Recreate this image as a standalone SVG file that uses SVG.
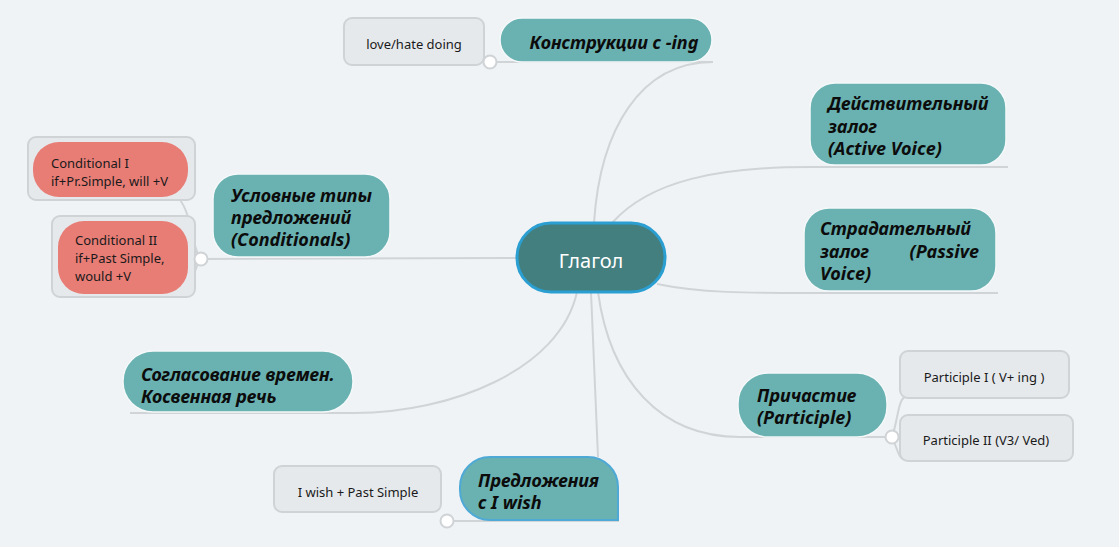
<svg xmlns="http://www.w3.org/2000/svg" width="1119" height="547" viewBox="0 0 1119 547">
<style>
.bg{fill:#eff3f6}
.c{fill:none;stroke:#d0d4d7;stroke-width:2}
.dot{fill:#ffffff;stroke:#cfd3d6;stroke-width:2}
.topic{fill:#6ab2b2;stroke:#f4f8f9;stroke-width:1.5}
.t{font-family:"Noto Sans","Open Sans",sans-serif;font-weight:bold;font-style:italic;font-size:18px;fill:#0c0c0c}
.sub{fill:#e6e9ec;stroke:#cfd3d6;stroke-width:2}
.s{font-family:"Noto Sans","Open Sans",sans-serif;font-size:13px;fill:#1a1a1a}
.red{fill:#e87d76}
</style>
<rect class="bg" x="0" y="0" width="1119" height="547"/>
<g id="connectors">
<path class="c" d="M594,223 C600,130 640,62 713,62 L492,62"/>
<path class="c" d="M612,223 C650,180 720,167 810,167 L1008,167"/>
<path class="c" d="M657,284 C700,293 750,293 804,293 L998,293"/>
<path class="c" d="M598,292 C610,380 660,437 740,437 L892,437"/>
<path class="c" d="M892,437 C898,420 898,400 905,397"/>
<path class="c" d="M892,437 C898,450 898,458 905,460"/>
<path class="c" d="M591,292 L598,457"/>
<path class="c" d="M619,521 L447,521"/>
<path class="c" d="M577,292 C560,370 450,413 355,413 L130,413"/>
<path class="c" d="M517,258 L201,259"/>
<path class="c" d="M201,259 C192,250 192,215 180,200"/>
<path class="c" d="M201,259 C192,270 192,290 188,296"/>
</g>
<g id="center">
<rect x="517" y="223" width="148" height="69" rx="34" fill="#437f7f" stroke="#2b9fd1" stroke-width="3"/>
<text x="591" y="268" text-anchor="middle" font-family="Noto Sans,Open Sans,sans-serif" font-size="20" fill="#ffffff">Глагол</text>
</g>
<g id="ing">
<rect class="topic" x="500" y="18" width="212" height="44" rx="22"/>
<text class="t" x="614" y="49" text-anchor="middle">Конструкции с -ing</text>
</g>
<g id="ing-sub">
<rect class="sub" x="344" y="18" width="140" height="47" rx="8"/>
<text class="s" x="414" y="49" text-anchor="middle">love/hate doing</text>
<circle class="dot" cx="490" cy="62" r="6.5"/>
</g>
<g id="active">
<rect class="topic" x="810" y="83" width="196" height="82" rx="25"/>
<text class="t"><tspan x="828" y="110">Действительный</tspan><tspan x="828" y="133">залог</tspan><tspan x="828" y="155">(Active Voice)</tspan></text>
</g>
<g id="passive">
<rect class="topic" x="804" y="208" width="192" height="83" rx="25"/>
<text class="t"><tspan x="820" y="235">Страдательный</tspan><tspan x="820" y="258">залог</tspan><tspan x="979" y="258" text-anchor="end">(Passive</tspan><tspan x="820" y="280">Voice)</tspan></text>
</g>
<g id="participle">
<rect class="topic" x="738" y="373" width="149" height="64" rx="30"/>
<text class="t"><tspan x="757" y="402">Причастие</tspan><tspan x="757" y="424">(Participle)</tspan></text>
</g>
<g id="participle1">
<rect class="sub" x="900" y="351" width="169" height="47" rx="8"/>
<text class="s" x="984" y="382" text-anchor="middle">Participle I ( V+ ing )</text>
</g>
<g id="participle2">
<rect class="sub" x="900" y="415" width="173" height="46" rx="8"/>
<text class="s" x="986" y="445" text-anchor="middle">Participle II (V3/ Ved)</text>
<circle class="dot" cx="892" cy="437" r="6.5"/>
</g>
<g id="conditionals">
<rect class="topic" x="213" y="174" width="177" height="83" rx="25"/>
<text class="t"><tspan x="231" y="202">Условные типы</tspan><tspan x="231" y="224">предложений</tspan><tspan x="231" y="246">(Conditionals)</tspan></text>
</g>
<g id="cond1">
<rect class="sub" x="28" y="137" width="167" height="63" rx="8"/>
<rect class="red" x="33" y="142" width="155" height="55" rx="26"/>
<text class="s"><tspan x="51" y="168">Conditional I</tspan><tspan x="51" y="186">if+Pr.Simple, will +V</tspan></text>
</g>
<g id="cond2">
<rect class="sub" x="52" y="216" width="143" height="81" rx="8"/>
<rect class="red" x="58" y="221" width="130" height="73" rx="26"/>
<text class="s"><tspan x="75" y="245">Conditional II</tspan><tspan x="75" y="263">if+Past Simple,</tspan><tspan x="75" y="281">would +V</tspan></text>
<circle class="dot" cx="201" cy="259" r="6.5"/>
</g>
<g id="sequence">
<rect class="topic" x="123" y="351" width="230" height="61" rx="30"/>
<text class="t"><tspan x="141" y="381">Согласование времен.</tspan><tspan x="141" y="403">Косвенная речь</tspan></text>
</g>
<g id="wish">
<path d="M490,457 L588,457 A30,30 0 0 1 618,487 L618,520 L490,520 A30,30 0 0 1 460,490 L460,487 A30,30 0 0 1 490,457 Z" fill="#6ab2b2" stroke="#4fa9d6" stroke-width="2"/>
<text class="t"><tspan x="478" y="487">Предложения</tspan><tspan x="478" y="509">с I wish</tspan></text>
</g>
<g id="wish-sub">
<rect class="sub" x="274" y="466" width="167" height="46" rx="8"/>
<text class="s" x="358" y="497" text-anchor="middle">I wish + Past Simple</text>
<circle class="dot" cx="447" cy="521" r="6.5"/>
</g>
</svg>
